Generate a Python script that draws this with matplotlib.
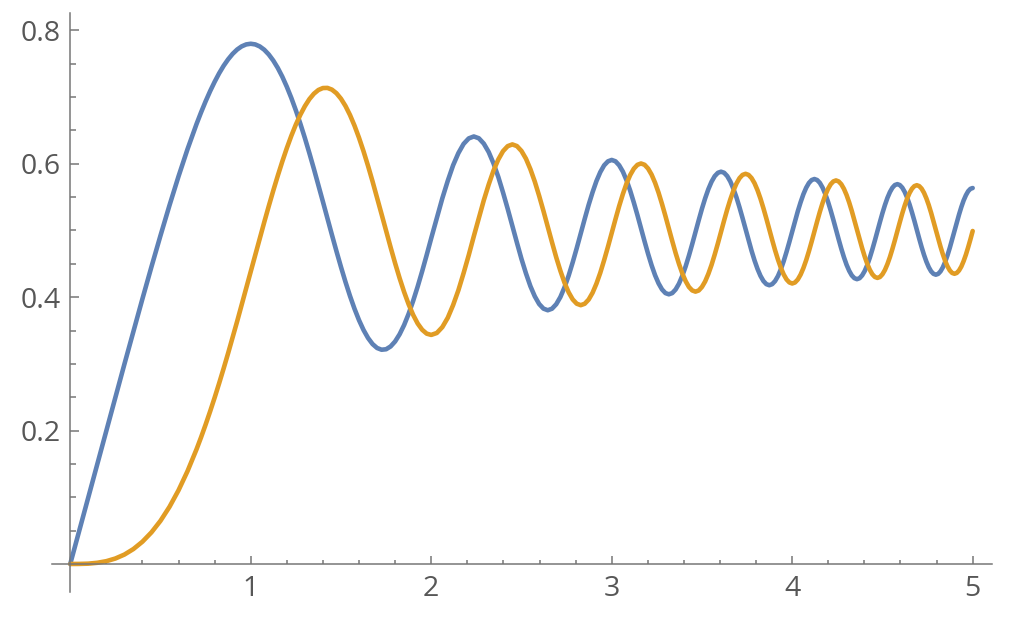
import matplotlib
matplotlib.use("Agg")
import matplotlib.pyplot as plt
from matplotlib.ticker import MultipleLocator

plt.rcParams["font.family"] = ["Open Sans", "DejaVu Sans"]

# --- Data ---
x_vals = [
    0.0, 0.05, 0.1, 0.15, 0.2, 0.25, 0.3, 0.35, 0.4, 0.45, 0.5, 0.55, 0.6, 0.65,
    0.7, 0.725, 0.75, 0.775, 0.8, 0.825, 0.85, 0.875, 0.9, 0.925,
    0.95, 0.975, 1.0, 1.025, 1.05, 1.075, 1.1, 1.125, 1.15, 1.175,
    1.2, 1.225, 1.25, 1.275, 1.3, 1.325, 1.35, 1.375, 1.4, 1.425,
    1.45, 1.475, 1.5, 1.525, 1.55, 1.575, 1.6, 1.625, 1.65, 1.675,
    1.7, 1.725, 1.75, 1.775, 1.8, 1.825, 1.85, 1.875, 1.9, 1.925,
    1.95, 1.975, 2.0,
    2.0310, 2.0616, 2.0917, 2.1213, 2.1506, 2.1795, 2.2079, 2.2361, 2.2639, 2.2913,
    2.3184, 2.3452, 2.3717, 2.3979, 2.4238, 2.4495, 2.4749, 2.5, 2.5249, 2.5495,
    2.5739, 2.5981, 2.6220, 2.6458, 2.6693, 2.6926, 2.7157, 2.7386, 2.7613, 2.7839,
    2.8062, 2.8284, 2.8504, 2.8723, 2.8940, 2.9155, 2.9368, 2.9580, 2.9791, 3.0,
    3.0208, 3.0414, 3.0619, 3.0822, 3.1024, 3.1225, 3.1425, 3.1623, 3.1820, 3.2016,
    3.2210, 3.2404, 3.2596, 3.2787, 3.2977, 3.3166, 3.3354, 3.3541, 3.3727, 3.3912,
    3.4096, 3.4278, 3.4460, 3.4641,
    3.4821, 3.5, 3.5178, 3.5355, 3.5532, 3.5707, 3.5882, 3.6056, 3.6228, 3.6401,
    3.6572, 3.6742, 3.6912, 3.7081, 3.7249, 3.7417, 3.7583, 3.7749, 3.7914, 3.8079,
    3.8243, 3.8406, 3.8568, 3.8730, 3.8891, 3.9051, 3.9211, 3.9370, 3.9528, 3.9686,
    3.9843, 4.0, 4.0156, 4.0311, 4.0466, 4.0620, 4.0774, 4.0927, 4.1079, 4.1231,
    4.1382, 4.1533, 4.1683, 4.1833, 4.1982, 4.2131, 4.2279, 4.2426, 4.2573, 4.2720,
    4.2866, 4.3012, 4.3157, 4.3301, 4.3445, 4.3589, 4.3732, 4.3875, 4.4017, 4.4159,
    4.4300, 4.4441, 4.4581, 4.4721, 4.4861, 4.5, 4.5139, 4.5277, 4.5415, 4.5552,
    4.5689, 4.5826, 4.5962, 4.6098, 4.6233, 4.6368, 4.6503, 4.6637, 4.6771, 4.6904,
    4.7037, 4.7170, 4.7302, 4.7434, 4.7566, 4.7697, 4.7828, 4.7958, 4.8088, 4.8218,
    4.8348, 4.8477, 4.8606, 4.8734, 4.8862, 4.8990, 4.9117, 4.9244, 4.9371, 4.9497,
    4.9624, 4.9749, 4.9875, 5.0,
]

blue_vals = [
    0.0, 0.0500, 0.1000, 0.1500, 0.1999, 0.2498, 0.2994, 0.3487, 0.3975, 0.4455,
    0.4923, 0.5377, 0.5811, 0.6220,
    0.6597, 0.6771, 0.6935, 0.7088, 0.7228, 0.7356, 0.7469, 0.7566, 0.7648, 0.7713,
    0.7760, 0.7789, 0.7799, 0.7789, 0.7759, 0.7709, 0.7638, 0.7547, 0.7436, 0.7305,
    0.7154, 0.6986, 0.6801, 0.6600, 0.6386, 0.6159, 0.5923, 0.5679, 0.5431, 0.5181,
    0.4933, 0.4689, 0.4453, 0.4228, 0.4018, 0.3826, 0.3655, 0.3508, 0.3388, 0.3297,
    0.3238, 0.3212, 0.3219, 0.3261, 0.3336, 0.3444, 0.3583, 0.3751, 0.3945, 0.4159,
    0.4390, 0.4633, 0.4883,
    0.5186, 0.5482, 0.5744, 0.5977, 0.6160, 0.6298, 0.6380, 0.6409, 0.6382, 0.6302,
    0.6176, 0.6005, 0.5802, 0.5569, 0.5324, 0.5067, 0.4817, 0.4574, 0.4357, 0.4165,
    0.4012, 0.3897, 0.3828, 0.3804, 0.3827, 0.3894, 0.4002, 0.4148, 0.4322, 0.4522,
    0.4734, 0.4956, 0.5173, 0.5384, 0.5573, 0.5741, 0.5875, 0.5976, 0.6036, 0.6057,
    0.6037, 0.5977, 0.5882, 0.5752, 0.5597, 0.5419, 0.5230, 0.5032, 0.4837, 0.4649,
    0.4478, 0.4328, 0.4207, 0.4116, 0.4061, 0.4043, 0.4061, 0.4115, 0.4202, 0.4320,
    0.4461, 0.4622, 0.4795, 0.4976,
    0.5154, 0.5326, 0.5482, 0.5619, 0.5731, 0.5814, 0.5864, 0.5881, 0.5865, 0.5815,
    0.5734, 0.5626, 0.5496, 0.5346, 0.5186, 0.5019, 0.4854, 0.4695, 0.4550, 0.4423,
    0.4319, 0.4242, 0.4195, 0.4179, 0.4195, 0.4241, 0.4316, 0.4417, 0.4539, 0.4679,
    0.4828, 0.4984, 0.5139, 0.5288, 0.5423, 0.5543, 0.5640, 0.5712, 0.5756, 0.5771,
    0.5756, 0.5713, 0.5642, 0.5547, 0.5433, 0.5301, 0.5160, 0.5013, 0.4868, 0.4727,
    0.4599, 0.4486, 0.4395, 0.4326, 0.4285, 0.4270, 0.4284, 0.4326, 0.4392, 0.4482,
    0.4591, 0.4716, 0.4849, 0.4989, 0.5127, 0.5260, 0.5382, 0.5489, 0.5576, 0.5641,
    0.5681, 0.5694, 0.5681, 0.5642, 0.5578, 0.5492, 0.5389, 0.5270, 0.5143, 0.5010,
    0.4878, 0.4751, 0.4635, 0.4533, 0.4449, 0.4387, 0.4350, 0.4337, 0.4349, 0.4387,
    0.4448, 0.4530, 0.4629, 0.4742, 0.4864, 0.4991, 0.5118, 0.5239, 0.5351, 0.5449,
    0.5528, 0.5588, 0.5624, 0.5636,
]

orange_vals = [
    0.0, 0.0001, 0.0005, 0.0018, 0.0042, 0.0082, 0.0141, 0.0224, 0.0334, 0.0474,
    0.0647, 0.0857, 0.1105, 0.1393,
    0.1721, 0.1900, 0.2089, 0.2287, 0.2493, 0.2709, 0.2932, 0.3162, 0.3398, 0.3639,
    0.3885, 0.4133, 0.4383, 0.4632, 0.4880, 0.5125, 0.5365, 0.5598, 0.5821, 0.6034,
    0.6234, 0.6419, 0.6587, 0.6735, 0.6863, 0.6969, 0.7050, 0.7106, 0.7135, 0.7137,
    0.7111, 0.7057, 0.6975, 0.6866, 0.6731, 0.6571, 0.6389, 0.6187, 0.5968, 0.5735,
    0.5492, 0.5244, 0.4994, 0.4748, 0.4509, 0.4284, 0.4077, 0.3892, 0.3734, 0.3605,
    0.3511, 0.3453, 0.3434,
    0.3463, 0.3551, 0.3691, 0.3881, 0.4104, 0.4361, 0.4630, 0.4914, 0.5186, 0.5452,
    0.5688, 0.5898, 0.6064, 0.6189, 0.6264, 0.6290, 0.6265, 0.6192, 0.6076, 0.5919,
    0.5732, 0.5518, 0.5291, 0.5053, 0.4822, 0.4597, 0.4395, 0.4216, 0.4073, 0.3966,
    0.3902, 0.3880, 0.3901, 0.3964, 0.4066, 0.4203, 0.4366, 0.4554, 0.4754, 0.4963,
    0.5168, 0.5366, 0.5546, 0.5704, 0.5831, 0.5926, 0.5984, 0.6004, 0.5985, 0.5928,
    0.5837, 0.5714, 0.5566, 0.5397, 0.5216, 0.5027, 0.4842, 0.4662, 0.4499, 0.4356,
    0.4240, 0.4153, 0.4101, 0.4083,
    0.4100, 0.4153, 0.4236, 0.4349, 0.4484, 0.4639, 0.4805, 0.4979, 0.5150, 0.5315,
    0.5465, 0.5597, 0.5704, 0.5784, 0.5833, 0.5849, 0.5833, 0.5785, 0.5708, 0.5603,
    0.5477, 0.5333, 0.5179, 0.5017, 0.4858, 0.4704, 0.4564, 0.4441, 0.4341, 0.4266,
    0.4221, 0.4205, 0.4220, 0.4265, 0.4338, 0.4436, 0.4554, 0.4689, 0.4834, 0.4986,
    0.5135, 0.5280, 0.5412, 0.5528, 0.5622, 0.5692, 0.5735, 0.5750, 0.5735, 0.5693,
    0.5624, 0.5532, 0.5420, 0.5293, 0.5155, 0.5012, 0.4870, 0.4734, 0.4609, 0.4499,
    0.4410, 0.4343, 0.4303, 0.4289, 0.4302, 0.4343, 0.4408, 0.4496, 0.4602, 0.4723,
    0.4853, 0.4990, 0.5124, 0.5255, 0.5373, 0.5478, 0.5563, 0.5626, 0.5665, 0.5678,
    0.5665, 0.5627, 0.5565, 0.5481, 0.5380, 0.5264, 0.5139, 0.5009, 0.4880, 0.4756,
    0.4642, 0.4542, 0.4461, 0.4400, 0.4363, 0.4351, 0.4363, 0.4400, 0.4459, 0.4540,
    0.4637, 0.4748, 0.4867, 0.4992,
]

x_ticks = [1, 2, 3, 4, 5]
y_ticks = [0.2, 0.4, 0.6, 0.8]
x_tick_labels = ["1", "2", "3", "4", "5"]
y_tick_labels = ["0.2", "0.4", "0.6", "0.8"]

# --- Styling (Mathematica-like defaults) ---
BLUE = "#5E81B5"
ORANGE = "#E19C24"
AXIS_GRAY = "#767676"
TEXT_GRAY = "#575757"

fig = plt.figure(figsize=(10.24, 6.26), dpi=100)
ax = fig.add_axes([52 / 1024, 1 - 592 / 626, 940 / 1024, 579 / 626])

ax.plot(x_vals, blue_vals, color=BLUE, lw=3.3,
        solid_joinstyle="round", solid_capstyle="round")
ax.plot(x_vals, orange_vals, color=ORANGE, lw=3.3,
        solid_joinstyle="round", solid_capstyle="round")

ax.set_xlim(-0.101, 5.107)
ax.set_ylim(-0.042, 0.826)

# axes through the origin, no frame
for side in ("top", "right"):
    ax.spines[side].set_visible(False)
ax.spines["left"].set_position(("data", 0))
ax.spines["bottom"].set_position(("data", 0))
for side in ("left", "bottom"):
    ax.spines[side].set_color(AXIS_GRAY)
    ax.spines[side].set_linewidth(1.1)

ax.set_xticks(x_ticks)
ax.set_xticklabels(x_tick_labels)
ax.set_yticks(y_ticks)
ax.set_yticklabels(y_tick_labels)
ax.xaxis.set_minor_locator(MultipleLocator(0.2))
ax.yaxis.set_minor_locator(MultipleLocator(0.05))

ax.tick_params(which="both", direction="in", color=AXIS_GRAY, width=1.1)
ax.tick_params(axis="x", which="major", length=5.8, pad=8, labelsize=20.5,
               labelcolor=TEXT_GRAY)
ax.tick_params(axis="x", which="minor", length=3.0)
ax.tick_params(axis="y", which="major", length=6.4, pad=7, labelsize=20.5,
               labelcolor=TEXT_GRAY)
ax.tick_params(axis="y", which="minor", length=4.0)

fig.savefig("out.png", dpi=100)
